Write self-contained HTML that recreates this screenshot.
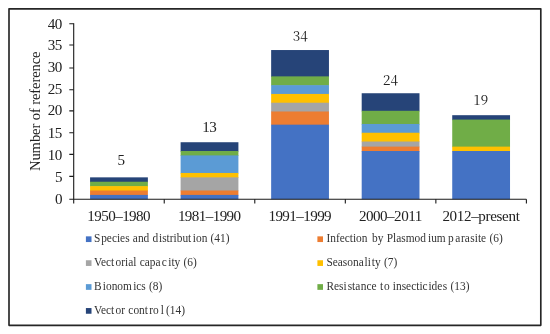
<!DOCTYPE html>
<html><head><meta charset="utf-8"><title>Number of reference</title>
<style>
html,body{margin:0;padding:0;background:#fff;}
body{width:550px;height:334px;position:relative;overflow:hidden;font-family:"Liberation Serif",serif;}
svg text{font-family:"Liberation Serif",serif;fill:#222;}
.yt{font-size:14.67px;}
.yl,.cat{font-size:15.1px;}
.yl{letter-spacing:-0.55px;}
.dl{font-size:15.1px;letter-spacing:-0.55px;}
.dl.sim{letter-spacing:0;font-family:"Noto Serif CJK SC","Liberation Serif",serif;font-size:13.6px;font-weight:400;}
.lg{font-size:12px;word-spacing:0.42px;fill:#333;}
</style></head><body>
<svg width="550" height="334" viewBox="0 0 550 334" style="position:absolute;left:0;top:0">
<rect x="9" y="8.8" width="531.8" height="316.5" fill="#fff" stroke="#262626" stroke-width="1.65" stroke-linejoin="round"/>
<rect x="90.07" y="177.35" width="57.80" height="4.99" fill="#264478"/>
<rect x="90.07" y="181.74" width="57.80" height="4.99" fill="#70AD47"/>
<rect x="90.07" y="186.13" width="57.80" height="4.99" fill="#FFC000"/>
<rect x="90.07" y="190.52" width="57.80" height="4.99" fill="#ED7D31"/>
<rect x="90.07" y="194.91" width="57.80" height="4.39" fill="#4472C4"/>
<text class="dl ser" x="120.97" y="165.35" text-anchor="middle">5</text>
<text class="cat" x="87.37" y="220.5" textLength="63.2" lengthAdjust="spacing">1950–1980</text>
<rect x="180.61" y="142.23" width="57.80" height="9.38" fill="#264478"/>
<rect x="180.61" y="151.01" width="57.80" height="4.99" fill="#70AD47"/>
<rect x="180.61" y="155.40" width="57.80" height="18.16" fill="#5B9BD5"/>
<rect x="180.61" y="172.96" width="57.80" height="4.99" fill="#FFC000"/>
<rect x="180.61" y="177.35" width="57.80" height="13.77" fill="#A5A5A5"/>
<rect x="180.61" y="190.52" width="57.80" height="4.99" fill="#ED7D31"/>
<rect x="180.61" y="194.91" width="57.80" height="4.39" fill="#4472C4"/>
<text class="dl ser" x="209.31" y="132.13" text-anchor="middle">13</text>
<text class="cat" x="177.91" y="220.5" textLength="63.2" lengthAdjust="spacing">1981–1990</text>
<rect x="271.15" y="50.04" width="57.80" height="26.94" fill="#264478"/>
<rect x="271.15" y="76.38" width="57.80" height="9.38" fill="#70AD47"/>
<rect x="271.15" y="85.16" width="57.80" height="9.38" fill="#5B9BD5"/>
<rect x="271.15" y="93.94" width="57.80" height="9.38" fill="#FFC000"/>
<rect x="271.15" y="102.72" width="57.80" height="9.38" fill="#A5A5A5"/>
<rect x="271.15" y="111.50" width="57.80" height="13.77" fill="#ED7D31"/>
<rect x="271.15" y="124.67" width="57.80" height="74.63" fill="#4472C4"/>
<text class="dl sim" x="300.25" y="40.74" text-anchor="middle">34</text>
<text class="cat" x="268.45" y="220.5" textLength="63.2" lengthAdjust="spacing">1991–1999</text>
<rect x="361.69" y="93.24" width="57.80" height="18.16" fill="#264478"/>
<rect x="361.69" y="110.80" width="57.80" height="13.77" fill="#70AD47"/>
<rect x="361.69" y="123.97" width="57.80" height="9.38" fill="#5B9BD5"/>
<rect x="361.69" y="132.75" width="57.80" height="9.38" fill="#FFC000"/>
<rect x="361.69" y="141.53" width="57.80" height="5.69" fill="#A5A5A5"/>
<rect x="361.69" y="146.62" width="57.80" height="4.99" fill="#ED7D31"/>
<rect x="361.69" y="151.01" width="57.80" height="48.29" fill="#4472C4"/>
<text class="dl sim" x="390.39" y="84.94" text-anchor="middle">24</text>
<text class="cat" x="358.99" y="220.5" textLength="63.2" lengthAdjust="spacing">2000–2011</text>
<rect x="452.23" y="115.19" width="57.80" height="4.99" fill="#264478"/>
<rect x="452.23" y="119.58" width="57.80" height="27.64" fill="#70AD47"/>
<rect x="452.23" y="146.62" width="57.80" height="4.99" fill="#FFC000"/>
<rect x="452.23" y="151.01" width="57.80" height="48.29" fill="#4472C4"/>
<text class="dl sim" x="480.83" y="104.79" text-anchor="middle">19</text>
<text class="cat" x="442.43" y="220.5" textLength="77.4" lengthAdjust="spacing">2012–present</text>
<path d="M73.7 23.2V203.6M69.3 199.3H526.4" stroke="#1a1a1a" stroke-width="1.1" fill="none"/>
<text class="yl" x="62.0" y="204" text-anchor="end">0</text>
<text class="yl" x="62.0" y="182" text-anchor="end">5</text>
<text class="yl" x="61.7" y="160" text-anchor="end">10</text>
<text class="yl" x="61.7" y="138" text-anchor="end">15</text>
<text class="yl" x="61.7" y="115" text-anchor="end">20</text>
<text class="yl" x="61.7" y="94" text-anchor="end">25</text>
<text class="yl" x="61.7" y="72" text-anchor="end">30</text>
<text class="yl" x="61.7" y="50" text-anchor="end">35</text>
<text class="yl" x="61.7" y="29" text-anchor="end">40</text>
<path d="M69.3 176.40H73.7M69.3 154.40H73.7M69.3 132.80H73.7M69.3 110.90H73.7M69.3 89.80H73.7M69.3 68.00H73.7M69.3 45.00H73.7M69.3 23.70H73.7M164.24 199.3V203.60000000000002M254.78 199.3V203.60000000000002M345.32 199.3V203.60000000000002M435.86 199.3V203.60000000000002M526.40 199.3V203.60000000000002" stroke="#1a1a1a" stroke-width="1.1" fill="none"/>
<text class="yt" transform="translate(39.8 171) rotate(-90)" textLength="119.6" lengthAdjust="spacing">Number of reference</text>
<rect x="85.9" y="236.35" width="5.6" height="5.7" fill="#4472C4"/>
<text class="lg" transform="translate(94.0 242.3) scale(0.95 1)"><tspan>S</tspan><tspan dx="0.84">pecies and d</tspan><tspan dx="0.84">istribut</tspan><tspan dx="1.58">ion (41)</tspan></text>
<rect x="317.4" y="236.35" width="5.6" height="5.7" fill="#ED7D31"/>
<text class="lg" transform="translate(326.4 242.3) scale(0.95 1)"><tspan>Infection</tspan><tspan dx="1.47"> by Plasmod</tspan><tspan dx="2.11">ium</tspan><tspan dx="-0.95"> p</tspan><tspan dx="1.68">a</tspan><tspan dx="0.63">ra</tspan><tspan dx="0.53">site (6)</tspan></text>
<rect x="85.9" y="260.25" width="5.6" height="5.7" fill="#A5A5A5"/>
<text class="lg" transform="translate(94.0 266.3) scale(0.95 1)"><tspan>Vect</tspan><tspan dx="1.47">orial capa</tspan><tspan dx="1.26">c</tspan><tspan dx="1.47">ity (6)</tspan></text>
<rect x="317.4" y="260.25" width="5.6" height="5.7" fill="#FFC000"/>
<text class="lg" transform="translate(326.4 266.3) scale(0.95 1)"><tspan>Seasona</tspan><tspan dx="0.95">li</tspan><tspan dx="0.95">ty (7)</tspan></text>
<rect x="85.9" y="284.15" width="5.6" height="5.7" fill="#5B9BD5"/>
<text class="lg" transform="translate(94.0 290.3) scale(0.95 1)"><tspan>B</tspan><tspan dx="1.26">ionom</tspan><tspan dx="1.32">ics (8)</tspan></text>
<rect x="317.4" y="284.15" width="5.6" height="5.7" fill="#70AD47"/>
<text class="lg" transform="translate(326.4 290.3) scale(0.95 1)"><tspan>Resi</tspan><tspan dx="1.05">sta</tspan><tspan dx="0.63">nce t</tspan><tspan dx="0.84">o insectic</tspan><tspan dx="0.84">ide</tspan><tspan dx="0.53">s (13)</tspan></text>
<rect x="85.9" y="308.05" width="5.6" height="5.7" fill="#264478"/>
<text class="lg" transform="translate(94.0 314.3) scale(0.95 1)"><tspan>Vect</tspan><tspan dx="1.47">or cont</tspan><tspan dx="1.26">ro</tspan><tspan dx="2.32">l</tspan><tspan dx="-1.26"> (14)</tspan></text>
</svg>
</body></html>
